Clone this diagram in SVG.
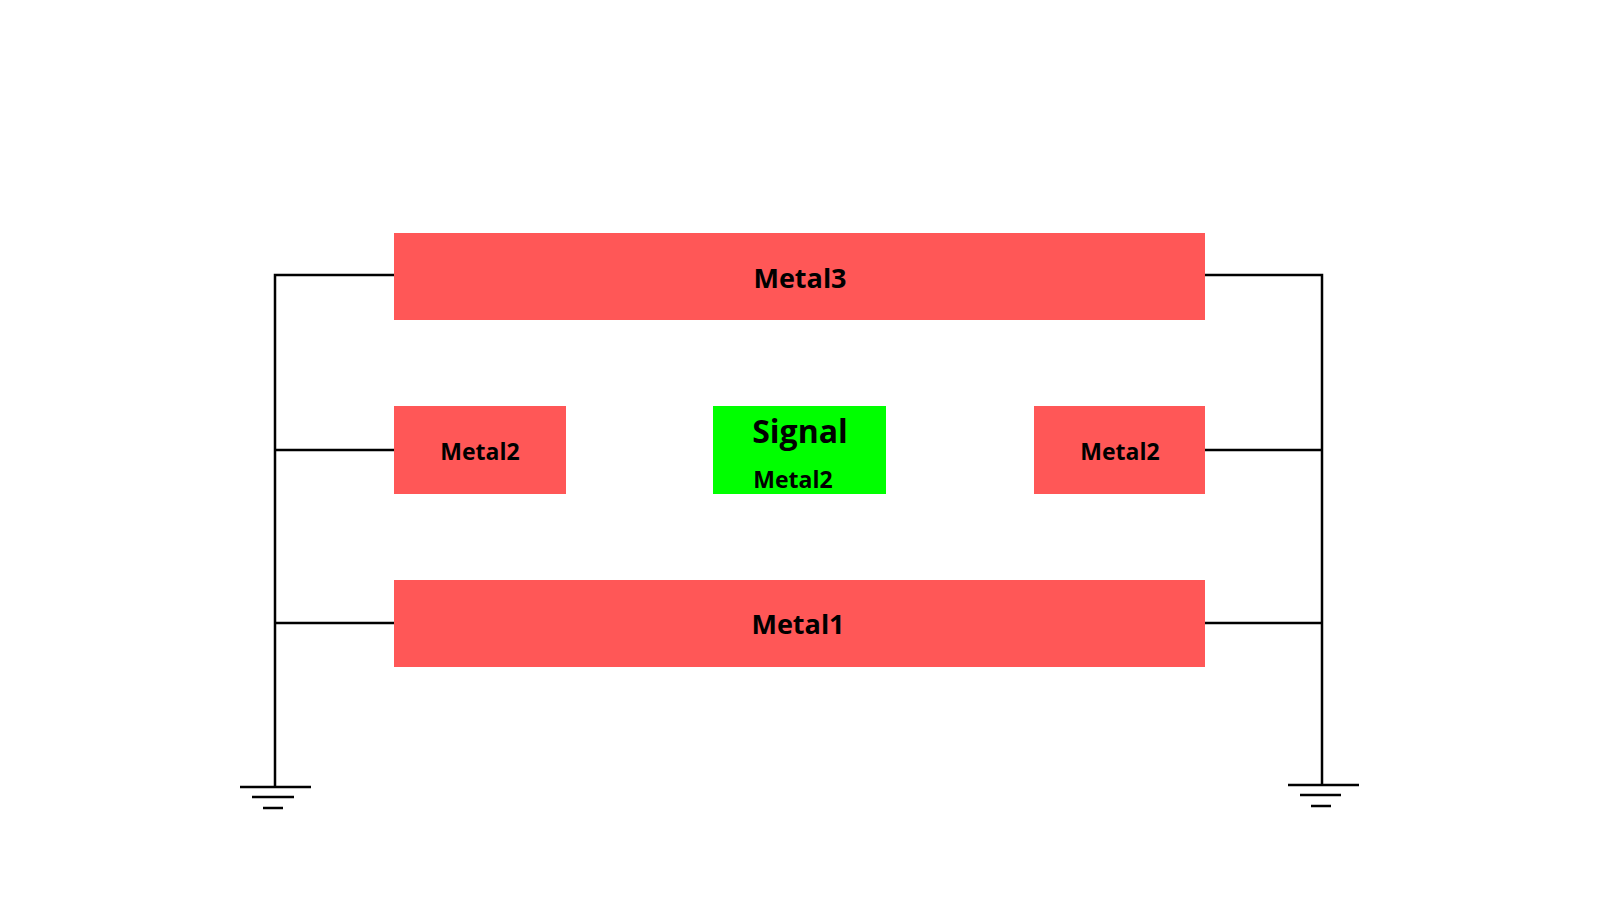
<svg xmlns="http://www.w3.org/2000/svg" width="1600" height="900" viewBox="0 0 1600 900">
<style>
.m{fill:#ff5757}
.t{font-family:"Open Sans","Liberation Sans",sans-serif;font-weight:bold;fill:#000;text-anchor:middle;dominant-baseline:central}
.w{stroke:#000;stroke-width:2.5;fill:none}
</style>
<rect width="1600" height="900" fill="#fff"/>
<g id="connectors" class="w">
<path d="M394 275H275V787M394 450H275M394 623H275"/>
<path d="M1205 275H1322V785M1205 450H1322M1205 623H1322"/>
<path d="M240 787H311M252 797H294M263 808H283"/>
<path d="M1288 785H1359M1300 795H1341M1311 806H1331"/>
</g>
<g id="metal3"><rect class="m" x="394" y="233" width="811" height="87"/><text class="t" x="800" y="277" font-size="27">Metal3</text></g>
<g id="metal2-left"><rect class="m" x="394" y="406" width="172" height="88"/><text class="t" x="480" y="451" font-size="23">Metal2</text></g>
<g id="signal"><rect fill="#00ff00" x="713" y="406" width="173" height="88"/><text class="t" x="800" y="430" font-size="32">Signal</text><text class="t" x="793" y="479" font-size="23">Metal2</text></g>
<g id="metal2-right"><rect class="m" x="1034" y="406" width="171" height="88"/><text class="t" x="1120" y="451" font-size="23">Metal2</text></g>
<g id="metal1"><rect class="m" x="394" y="580" width="811" height="87"/><text class="t" x="798" y="623" font-size="27">Metal1</text></g>
</svg>
